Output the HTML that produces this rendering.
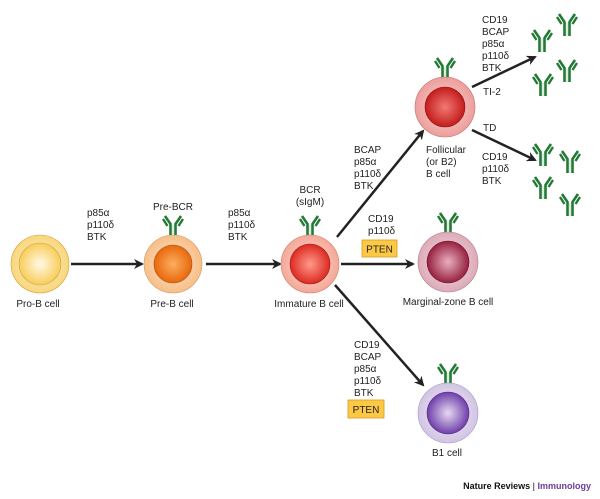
<!DOCTYPE html>
<html><head><meta charset="utf-8"><style>
body{margin:0;background:#fff}
svg{display:block}
text{font-family:"Liberation Sans",sans-serif;font-size:10px;fill:#222}
</style></head><body>
<svg width="600" height="499" viewBox="0 0 600 499" xmlns="http://www.w3.org/2000/svg">
<defs>
<marker id="ah" markerWidth="10" markerHeight="10" refX="8" refY="5" orient="auto" markerUnits="userSpaceOnUse"><path d="M0,0 L10,5 L0,10 L3,5 Z" fill="#222"/></marker>
<g id="ab">
<path d="M-2.5,0 V-14 L-8,-22 M2.5,0 V-14 L8,-22" stroke="#237a35" stroke-width="2.6" fill="none"/>
<path d="M-5.5,-12 L-10,-19 M5.5,-12 L10,-19" stroke="#237a35" stroke-width="2.4" fill="none"/>
<path d="M0,0 V-13" stroke="#b8d8bc" stroke-width="1" fill="none"/>
</g>
<radialGradient id="g1o" cx="50%" cy="50%" r="50%"><stop offset="0" stop-color="#fff4d0"/><stop offset="1" stop-color="#f8d67a"/></radialGradient>
<radialGradient id="g1i" cx="50%" cy="50%" r="50%"><stop offset="0" stop-color="#fffbe8"/><stop offset="1" stop-color="#f8cc58"/></radialGradient>
<radialGradient id="g2o"><stop offset="0" stop-color="#fde8d0"/><stop offset="1" stop-color="#f6be88"/></radialGradient>
<radialGradient id="g2i"><stop offset="0" stop-color="#fcae60"/><stop offset="1" stop-color="#e8680c"/></radialGradient>
<radialGradient id="g3o"><stop offset="0" stop-color="#fde0d8"/><stop offset="1" stop-color="#f4a898"/></radialGradient>
<radialGradient id="g3i"><stop offset="0" stop-color="#ff9a8a"/><stop offset="1" stop-color="#dc2a22"/></radialGradient>
<radialGradient id="g4o"><stop offset="0" stop-color="#fbd8d4"/><stop offset="1" stop-color="#ec9e9c"/></radialGradient>
<radialGradient id="g4i"><stop offset="0" stop-color="#f27a74"/><stop offset="1" stop-color="#c21c1c"/></radialGradient>
<radialGradient id="g5o"><stop offset="0" stop-color="#f6e2e8"/><stop offset="1" stop-color="#dcaab8"/></radialGradient>
<radialGradient id="g5i"><stop offset="0" stop-color="#e8b0c0"/><stop offset="1" stop-color="#96203e"/></radialGradient>
<radialGradient id="g6o"><stop offset="0" stop-color="#f4eef8"/><stop offset="1" stop-color="#d2c4e4"/></radialGradient>
<radialGradient id="g6i"><stop offset="0" stop-color="#e6daf2"/><stop offset="1" stop-color="#6e3ea8"/></radialGradient>
</defs>

<g stroke="#222" stroke-width="2.5" fill="none" marker-end="url(#ah)">
<line x1="71" y1="264" x2="142" y2="264"/>
<line x1="206" y1="264" x2="280" y2="264"/>
<line x1="337" y1="237" x2="423" y2="131"/>
<line x1="341" y1="264" x2="413" y2="264"/>
<line x1="335" y1="285" x2="423" y2="385"/>
<line x1="472" y1="87" x2="535" y2="57"/>
<line x1="472" y1="130" x2="535" y2="160"/>
</g>

<circle cx="40" cy="264" r="29" fill="url(#g1o)" stroke="#c9a24a" stroke-width="0.6"/>
<circle cx="40" cy="264" r="21" fill="url(#g1i)" stroke="#c9a24a" stroke-width="0.6"/>

<use href="#ab" x="173" y="238"/>
<circle cx="173" cy="264" r="29" fill="url(#g2o)" stroke="#d89a60" stroke-width="0.6"/>
<circle cx="173" cy="264" r="19" fill="url(#g2i)" stroke="#b24a08" stroke-width="0.6"/>

<use href="#ab" x="310" y="238"/>
<circle cx="310" cy="264" r="29" fill="url(#g3o)" stroke="#d08070" stroke-width="0.6"/>
<circle cx="310" cy="264" r="20" fill="url(#g3i)" stroke="#a01a14" stroke-width="0.6"/>

<use href="#ab" x="445" y="80"/>
<circle cx="445" cy="107" r="30" fill="url(#g4o)" stroke="#c07070" stroke-width="0.6"/>
<circle cx="445" cy="107" r="20" fill="url(#g4i)" stroke="#901010" stroke-width="0.6"/>

<use href="#ab" x="448" y="235"/>
<circle cx="448" cy="262" r="30" fill="url(#g5o)" stroke="#b08090" stroke-width="0.6"/>
<circle cx="448" cy="262" r="21" fill="url(#g5i)" stroke="#701630" stroke-width="0.6"/>

<use href="#ab" x="448" y="386"/>
<circle cx="448" cy="413" r="30" fill="url(#g6o)" stroke="#a898c0" stroke-width="0.6"/>
<circle cx="448" cy="413" r="21" fill="url(#g6i)" stroke="#4e2888" stroke-width="0.6"/>

<use href="#ab" x="542" y="52"/>
<use href="#ab" x="567" y="36"/>
<use href="#ab" x="567" y="82"/>
<use href="#ab" x="543" y="96"/>
<use href="#ab" x="543" y="166"/>
<use href="#ab" x="570" y="173"/>
<use href="#ab" x="543" y="199"/>
<use href="#ab" x="570" y="216"/>

<rect x="362" y="240" width="35" height="17" fill="#fcc845" stroke="#d89a20" stroke-width="0.8"/>
<text x="379.5" y="252.5" text-anchor="middle">PTEN</text>
<rect x="348" y="400" width="36" height="18" fill="#fcc845" stroke="#d89a20" stroke-width="0.8"/>
<text x="366" y="413" text-anchor="middle">PTEN</text>

<text x="87" y="216">p85α</text><text x="87" y="228">p110δ</text><text x="87" y="240">BTK</text>
<text x="228" y="216">p85α</text><text x="228" y="228">p110δ</text><text x="228" y="240">BTK</text>
<text x="173" y="210" text-anchor="middle">Pre-BCR</text>
<text x="310" y="193" text-anchor="middle">BCR</text><text x="310" y="205" text-anchor="middle">(sIgM)</text>
<text x="38" y="307" text-anchor="middle">Pro-B cell</text>
<text x="172" y="307" text-anchor="middle">Pre-B cell</text>
<text x="309" y="307" text-anchor="middle">Immature B cell</text>
<text x="448" y="305" text-anchor="middle">Marginal-zone B cell</text>
<text x="447" y="456" text-anchor="middle">B1 cell</text>
<text x="426" y="153">Follicular</text><text x="426" y="165">(or B2)</text><text x="426" y="177">B cell</text>
<text x="354" y="153">BCAP</text><text x="354" y="165">p85α</text><text x="354" y="177">p110δ</text><text x="354" y="189">BTK</text>
<text x="368" y="222">CD19</text><text x="368" y="234">p110δ</text>
<text x="354" y="348">CD19</text><text x="354" y="360">BCAP</text><text x="354" y="372">p85α</text><text x="354" y="384">p110δ</text><text x="354" y="396">BTK</text>
<text x="482" y="23">CD19</text><text x="482" y="35">BCAP</text><text x="482" y="47">p85α</text><text x="482" y="59">p110δ</text><text x="482" y="71">BTK</text>
<text x="483" y="95">TI-2</text>
<text x="483" y="131">TD</text>
<text x="482" y="160">CD19</text><text x="482" y="172">p110δ</text><text x="482" y="184">BTK</text>

<text x="591" y="489" text-anchor="end" style="font-size:9px;font-weight:bold"><tspan fill="#111">Nature Reviews</tspan><tspan fill="#111" font-weight="normal"> | </tspan><tspan fill="#6a3d9a">Immunology</tspan></text>
</svg>
</body></html>
